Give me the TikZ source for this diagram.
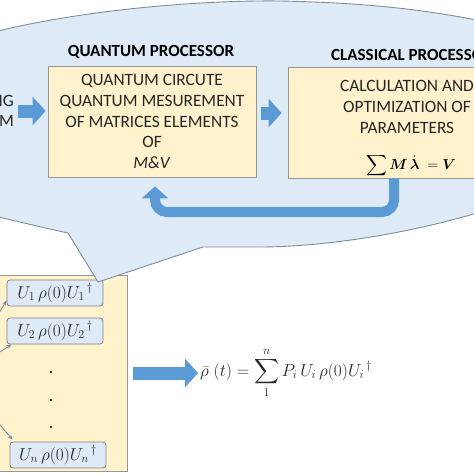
\documentclass[tikz,border=0pt]{standalone}
\usepackage{amsmath,bm}
\usepackage{fontspec}
\setmainfont{Carlito}
\usetikzlibrary{arrows.meta}
\definecolor{bubblefill}{HTML}{DEEBF7}
\definecolor{bubbleline}{RGB}{125,140,160}
\definecolor{yfill}{HTML}{FFF2CC}
\definecolor{boxline}{RGB}{150,150,150}
\definecolor{ablue}{HTML}{5B9BD5}
\definecolor{uline}{RGB}{128,128,128}
\definecolor{sarrow}{RGB}{110,140,170}
\definecolor{tx}{RGB}{38,38,38}
\begin{document}
\begin{tikzpicture}[x=1pt,y=-1pt,
  txt/.style={font=\fontsize{17.3}{20.75}\selectfont, text=tx, align=center, inner sep=0pt},
  title/.style={font=\fontsize{17}{20}\selectfont\bfseries, text=black, inner sep=0pt},
  ybox/.style={draw=boxline, fill=yfill, line width=0.8pt, inner sep=0pt},
  ubox/.style={draw=uline, fill=bubblefill, rounded corners=3pt, line width=0.8pt,
    minimum width=96pt, minimum height=26pt, inner sep=0pt, text=tx,
    font=\fontsize{18.5}{18.5}\selectfont},
  blockarrow/.style={draw=ablue, line width=13pt, -{Triangle[width=28pt,length=13pt]}},
  fbarrow/.style={draw=ablue, line width=10pt, rounded corners=12pt,
    -{Triangle[width=26pt,length=12pt]}},
  smallarrow/.style={draw=sarrow, line width=0.8pt, -{Stealth[length=5pt,width=4pt]}},
  dotnode/.style={circle, fill=black, inner sep=0pt, minimum size=2.4pt}
]
\useasboundingbox (0,0) rectangle (474,474);
\clip (0,0) rectangle (474,474);

% ---------- lower panel ----------
\node[ybox, minimum width=137pt, minimum height=196pt] (panel) at (58.5,373) {};
\node[ubox] (u1) at (55,293) {$U_1\,\rho(0)U_1{}^{\,\dagger}$};
\node[ubox] (u2) at (55,331) {$U_2\,\rho(0)U_2{}^{\,\dagger}$};
\node[ubox] (un) at (58,455) {$U_n\,\rho(0)U_n{}^{\,\dagger}$};
\node[dotnode] (d1) at (51,372) {};
\node[dotnode] (d2) at (51,400) {};
\node[dotnode] (d3) at (51,427) {};
\coordinate (src) at (-40,378);
\draw[smallarrow] (src) -- ([yshift=6pt]u1.south west);
\draw[smallarrow] (src) -- ([xshift=5pt]u2.south west);
\draw[smallarrow] (src) -- ([xshift=3pt,yshift=2pt]un.north west);

% result formula
\node[anchor=west, inner sep=0pt, text=tx, font=\fontsize{17.5}{17.5}\selectfont] (res) at (200,373)
  {$\bar\rho\;(t) = \displaystyle\sum_{1}^{n} P_i\,U_i\,\rho(0)U_i{}^{\,\dagger}$};
\draw[blockarrow] ([xshift=6pt]panel.east |- res.west) -- ([xshift=-2pt]res.west);

% ---------- callout bubble ----------
\path[fill=bubblefill, draw=bubbleline, line width=0.9pt]
  (-10,33) .. controls (80,10) and (200,0) .. (280,1)
  .. controls (380,3) and (450,12) .. (530,32)
  -- (530,195)
  .. controls (440,230) and (330,247) .. (260,247)
  -- (203,247) -- (98,282) -- (68,233)
  .. controls (45,228) and (20,222) .. (-10,215) -- cycle;

% titles
\node[title] (qtitle) at (151,52) {QUANTUM PROCESSOR};
\node[title, anchor=west] (ctitle) at (331,55) {CLASSICAL PROCESSOR};

% quantum processor box
\node[ybox, txt, minimum width=208pt, minimum height=111pt] (qp) at (152,121.5)
  {QUANTUM CIRCUTE\\QUANTUM MESUREMENT\\OF MATRICES ELEMENTS\\OF\\\textit{M\&V}};

% classical processor box
\node[ybox, minimum width=238pt, minimum height=111pt] (cp) at (407,122.5) {};
\node[txt] (ctext) at (407,107) {CALCULATION AND\\OPTIMIZATION OF\\PARAMETERS};
\node[inner sep=0pt, text=black, font=\fontsize{15}{15}\selectfont] (cform) at (411,166)
  {$\displaystyle\sum \bm{M}\,\dot{\bm{\lambda}}\; = \bm{V}$};

% left text and arrows
\node[txt, align=right, anchor=east] (lefttext) at (14,111) {NG\\M};
\draw[blockarrow] ([xshift=4pt]lefttext.east) -- ([xshift=-2pt]qp.west |- lefttext.east);
\coordinate (mid) at (0,113);
\draw[blockarrow] ([xshift=5pt]qp.east |- mid) -- ([xshift=-6pt]cp.west |- mid);

% feedback arrow
\coordinate (fbc) at (155,212);
\draw[fbarrow] ([xshift=-13pt]cp.south) |- (fbc) -- ([yshift=-9pt]qp.south -| fbc);
\end{tikzpicture}
\end{document}
